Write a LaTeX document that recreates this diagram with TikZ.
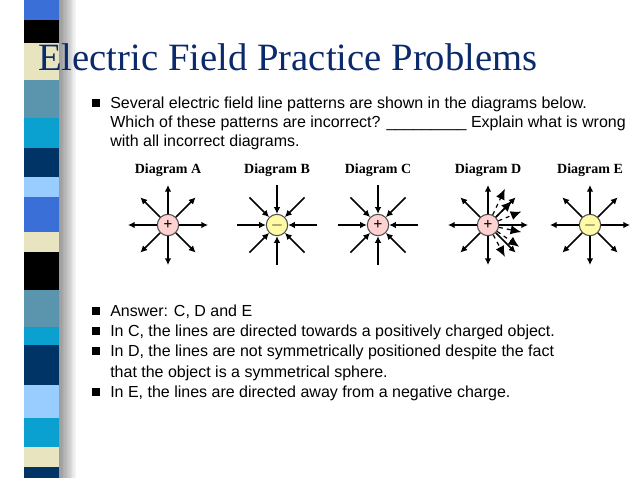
\documentclass[tikz,border=0pt]{standalone}
\usepackage{fontspec}
\setmainfont{Liberation Serif}
\newfontfamily\ar{Liberation Sans}
\usetikzlibrary{arrows.meta}
\definecolor{rb}{HTML}{3A6FD8}\definecolor{cr}{HTML}{E8E4C0}\definecolor{st}{HTML}{5B95AD}
\definecolor{cy}{HTML}{0AA0D0}\definecolor{nv}{HTML}{003366}\definecolor{lb}{HTML}{99CCFF}
\definecolor{ttl}{HTML}{0B2A6B}
\tikzset{fl/.style={line width=1.1pt,-{Latex[length=5pt,width=5pt]}},
 dl/.style={line width=0.9pt,dashed,-{Latex[length=8pt,width=7pt]}},
 chg/.style={circle,draw=black!70,line width=0.8pt,minimum size=16pt,inner sep=0pt,font=\bfseries\large},
 lbl/.style={font=\bfseries\fontsize{10.5}{12}\selectfont},
 txt/.style={anchor=base west,font=\ar\fontsize{12}{14}\selectfont,inner sep=0pt},
 bul/.style={fill=black,minimum size=5.5pt,inner sep=0pt}}
\begin{document}
\begin{tikzpicture}[x=0.75pt,y=-0.75pt]
\useasboundingbox (0,0) rectangle (638,478);
\fill[white] (0,0) rectangle (638,478);
\foreach \i in {0,...,12}{\fill[black,opacity=0.035] (58,0) rectangle (76-\i*1.3,478);}
\foreach \a/\b/\c in {0/20/rb,20/43/black,43/80/cr,80/118/st,118/148/cy,148/177/nv,177/197/lb,197/232/rb,232/252/cr,252/290/black,290/327/st,327/345/cy,345/385/nv,385/418/lb,418/447/cy,447/467/cr,467/478/nv}
  {\fill[\c] (24,\a) rectangle (59,\b);}
\node[anchor=base west,text=ttl,font=\fontsize{29}{32}\selectfont,inner sep=0pt] (title) at (38,70) {Electric Field Practice Problems};
\node[bul] (b1) at (96,103) {};
\node[txt] (t1) at (110,108) {Several electric field line patterns are shown in the diagrams below.};
\node[txt] (t2) at (110,127) {Which of these patterns are incorrect? \_\_\_\_\_\_\_\_\_ Explain what is wrong};
\node[txt] (t3) at (110,146) {with all incorrect diagrams.};
\foreach \y/\t [count=\k] in {316/{Answer: C, D and E},336/{In C, the lines are directed towards a positively charged object.},356/{In D, the lines are not symmetrically positioned despite the fact},397/{In E, the lines are directed away from a negative charge.}}
  {\node[bul] (ab\k) at (96,\y-5) {}; \node[txt] (a\k) at (110,\y) {\t};}
\node[txt] (a3b) at (110,377) {that the object is a symmetrical sphere.};
\foreach \n/\x/\l/\f/\s in {A/168/Diagram A/red!18/+,B/277/Diagram B/yellow!35/$-$,C/378/Diagram C/red!18/+,D/488/Diagram D/red!18/+,E/590/Diagram E/yellow!35/$-$}{
  \node[lbl] (L\n) at (\x,170) {\l};
  \node[chg,fill=\f] (c\n) at (\x,225) {\s};
  \foreach \ang/\len in {0/40,90/40,180/40,270/40,45/39,135/39,225/39,315/39}{
    \coordinate (e\n\ang) at ([shift={(\ang:\len)}]\x,225);}
}
\foreach \n in {A,D,E}{\foreach \ang in {0,45,90,135,180,225,270,315}{\draw[fl] (c\n) -- (e\n\ang);}}
\foreach \n in {B,C}{\foreach \ang in {0,45,90,135,180,225,270,315}{\draw[fl] (e\n\ang) -- (c\n);}}
\foreach \ang/\len in {62/36,35/38,12/34,-22/36,-45/34,-65/40}{
  \coordinate (dD\ang) at ([shift={(\ang:\len)}]488,225);
  \draw[dl] (cD) -- (dD\ang);}
\end{tikzpicture}
\end{document}
